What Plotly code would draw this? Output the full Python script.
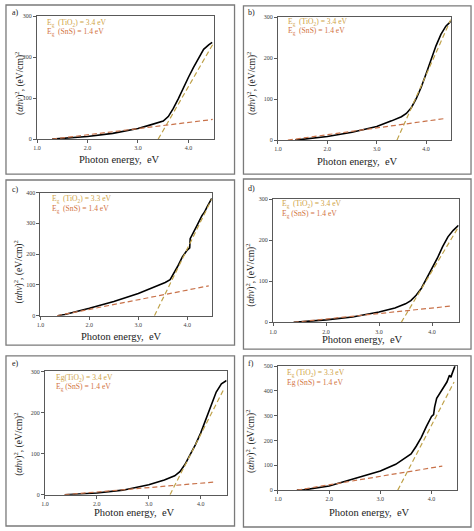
import plotly.graph_objects as go

W, H = 474, 531

# ---------------- data ----------------
a_E = [1.3, 1.5, 2.0, 2.5, 3.0, 3.2, 3.4, 3.5, 3.6, 3.7, 3.8, 3.9, 4.0, 4.1, 4.2, 4.3, 4.4, 4.47]
a_v = [0, 2, 6.5, 14, 26, 33, 40, 44, 55, 75, 99, 127, 151, 175, 199, 219, 230, 236]
a_tio2_E = [3.4, 4.48]
a_tio2_v = [0, 231]
a_sns_E = [1.3, 4.48]
a_sns_v = [0, 48]

b_E = [1.35, 1.5, 2.0, 2.5, 3.0, 3.3, 3.5, 3.6, 3.7, 3.8, 3.9, 4.0, 4.1, 4.2, 4.3, 4.4, 4.47, 4.5]
b_v = [0, 2, 9, 19, 33, 47, 57, 65, 79, 101, 129, 162, 198, 230, 258, 278, 286, 290]
b_tio2_E = [3.41, 4.5]
b_tio2_v = [0, 294]
b_sns_E = [1.2, 4.4]
b_sns_v = [0, 53]

c_E = [1.35, 1.5, 2.0, 2.5, 3.0, 3.2, 3.4, 3.55, 3.65, 3.8, 3.9, 4.0, 4.05, 4.06, 4.1, 4.2, 4.3, 4.35, 4.4, 4.5]
c_v = [0, 4, 24, 46, 72, 84, 98, 108, 117, 159, 191, 213, 220, 250, 261, 293, 325, 336, 352, 381]
c_tio2_E = [3.33, 4.5]
c_tio2_v = [0, 379]
c_sns_E = [1.34, 4.44]
c_sns_v = [0, 97]

d_E = [1.39, 1.5, 2.0, 2.5, 3.0, 3.3, 3.5, 3.6, 3.7, 3.8, 3.9, 4.0, 4.1, 4.2, 4.3, 4.4, 4.5]
d_v = [0, 1, 6, 13, 25, 35, 45, 53, 66, 83, 107, 132, 156, 184, 208, 224, 236]
d_tio2_E = [3.42, 4.48]
d_tio2_v = [0, 228]
d_sns_E = [1.39, 4.39]
d_sns_v = [0, 40]

e_E = [1.38, 1.5, 2.0, 2.5, 3.0, 3.3, 3.5, 3.6, 3.7, 3.8, 3.9, 4.0, 4.1, 4.2, 4.3, 4.4, 4.5]
e_v = [0, 1, 4, 11, 24, 36, 46, 56, 74, 98, 122, 150, 182, 218, 250, 270, 278]
e_tio2_E = [3.41, 4.45]
e_tio2_v = [0, 258]
e_sns_E = [1.38, 4.29]
e_sns_v = [0, 31]

f_E = [1.37, 1.5, 2.0, 2.5, 3.0, 3.3, 3.5, 3.6, 3.7, 3.8, 3.9, 4.0, 4.04, 4.06, 4.1, 4.2, 4.3, 4.35, 4.38, 4.4, 4.45, 4.47, 4.5]
f_v = [0, 1, 17, 47, 77, 104, 130, 146, 177, 213, 257, 297, 305, 335, 370, 403, 436, 463, 455, 469, 496, 520, 520]
f_tio2_E = [3.34, 4.44]
f_tio2_v = [0, 436]
f_sns_E = [1.37, 4.21]
f_sns_v = [0, 97]

y_max = [300, 300, 400, 300, 300, 500]
labels = ["a)", "b)", "c)", "d)", "e)", "f)"]
tio2_text = ["E<sub>g</sub>  (TiO<sub>2</sub>) = 3.4 eV", "E<sub>g</sub>  (TiO<sub>2</sub>) = 3.4 eV",
             "E<sub>g</sub>  (TiO<sub>2</sub>) = 3.3 eV", "E<sub>g</sub>  (TiO<sub>2</sub>) = 3.4 eV",
             "Eg(TiO<sub>2</sub>) = 3.4 eV", "E<sub>g</sub> (TiO<sub>2</sub>) = 3.3 eV"]
sns_text = ["E<sub>g</sub>  (SnS) = 1.4 eV", "E<sub>g</sub>  (SnS) = 1.4 eV",
            "E<sub>g</sub>  (SnS) = 1.4 eV", "E<sub>g</sub> (SnS) = 1.4 eV",
            "E<sub>g</sub> (SnS) = 1.4 eV", "Eg (SnS) = 1.4 eV"]
x_ticks = [1.0, 2.0, 3.0, 4.0]
x_title = "Photon energy,  eV"
y_title = "(<i>αhν</i>)<sup>2</sup>, (eV/cm)<sup>2</sup>"

curves = [(a_E, a_v), (b_E, b_v), (c_E, c_v), (d_E, d_v), (e_E, e_v), (f_E, f_v)]
tio2_lines = [(a_tio2_E, a_tio2_v), (b_tio2_E, b_tio2_v), (c_tio2_E, c_tio2_v),
              (d_tio2_E, d_tio2_v), (e_tio2_E, e_tio2_v), (f_tio2_E, f_tio2_v)]
sns_lines = [(a_sns_E, a_sns_v), (b_sns_E, b_sns_v), (c_sns_E, c_sns_v),
             (d_sns_E, d_sns_v), (e_sns_E, e_sns_v), (f_sns_E, f_sns_v)]

# ---------------- layout geometry (pixels) ----------------
plot_px = [  # x0, x1, ytop, ybottom
    (33.3, 211.5, 13.3, 137.7),
    (276.3, 450.6, 14.3, 138.7),
    (36.7, 209.5, 191.7, 316.3),
    (271.3, 458.4, 198.3, 323.0),
    (41.3, 224.5, 372.7, 497.3),
    (276.3, 457.0, 367.3, 492.7),
]
box_px = [
    (2, 232.5, 2, 173),
    (241.5, 471, 3, 173),
    (2, 232.5, 179, 346),
    (241.5, 471, 178, 350),
    (2, 232.5, 357, 529),
    (241.5, 471, 357, 530),
]
label_px = [(6, 10), (244, 10), (6, 189), (244, 188), (6, 365), (244, 365)]
legend_px = [(41.7, 20.2), (284, 18.8), (46, 198.5), (278.3, 203.8), (50, 378.8), (283.3, 374.5)]
ytitle_px = [(15, 81), (249, 81), (15, 271.7), (249, 275), (15, 446), (249, 443)]
xtitle_px = [(116.7, 158.3), (357, 160), (118, 337), (362, 340.7), (131.7, 515.7), (369, 515)]

TIO2_LINE = "#BFA24A"
SNS_LINE = "#C8724A"
TIO2_TXT = "#CFA346"
SNS_TXT = "#D2743F"
SERIF = "Times New Roman, Liberation Serif, DejaVu Serif, serif"


def px_x(x):
    return x / W


def px_y(y):
    return 1 - y / H


fig = go.Figure()
annotations = []
shapes = []

for i in range(6):
    n = "" if i == 0 else str(i + 1)
    xa, ya = "x" + n, "y" + n
    E, v = curves[i]
    fig.add_trace(go.Scatter(x=E, y=v, mode="lines", xaxis=xa, yaxis=ya,
                             line=dict(color="black", width=1.6), showlegend=False))
    tE, tv = tio2_lines[i]
    fig.add_trace(go.Scatter(x=tE, y=tv, mode="lines", xaxis=xa, yaxis=ya,
                             line=dict(color=TIO2_LINE, width=1.2, dash="5px,3px"), showlegend=False))
    sE, sv = sns_lines[i]
    fig.add_trace(go.Scatter(x=sE, y=sv, mode="lines", xaxis=xa, yaxis=ya,
                             line=dict(color=SNS_LINE, width=1.2, dash="5px,3px"), showlegend=False))

    x0, x1, yt, yb = plot_px[i]
    axis_common = dict(showline=True, linecolor="#595959", linewidth=1, mirror=True,
                       showgrid=False, zeroline=False, ticks="outside", ticklen=3,
                       tickcolor="#595959", tickwidth=1,
                       tickfont=dict(family=SERIF, size=6, color="#404040"))
    fig.layout["xaxis" + n] = dict(domain=[px_x(x0), px_x(x1)], range=[1.0, 4.5],
                                   anchor=ya, tickvals=x_ticks, tickformat=".1f", **axis_common)
    fig.layout["yaxis" + n] = dict(domain=[px_y(yb), px_y(yt)], range=[0, y_max[i]],
                                   anchor=xa, dtick=100, **axis_common)

    bx0, bx1, by0, by1 = box_px[i]
    shapes.append(dict(type="rect", xref="paper", yref="paper",
                       x0=px_x(bx0), x1=px_x(bx1), y0=px_y(by1), y1=px_y(by0),
                       line=dict(color="#7a7a7a", width=1.3)))

    lx, ly = label_px[i]
    annotations.append(dict(text=labels[i], xref="paper", yref="paper", x=px_x(lx), y=px_y(ly),
                            xanchor="left", yanchor="middle", showarrow=False,
                            font=dict(family=SERIF, size=8, color="#222")))
    gx, gy = legend_px[i]
    annotations.append(dict(text=tio2_text[i], xref="paper", yref="paper", x=px_x(gx), y=px_y(gy),
                            xanchor="left", yanchor="middle", showarrow=False,
                            font=dict(family=SERIF, size=7.6, color=TIO2_TXT)))
    annotations.append(dict(text=sns_text[i], xref="paper", yref="paper", x=px_x(gx), y=px_y(gy + 9.5),
                            xanchor="left", yanchor="middle", showarrow=False,
                            font=dict(family=SERIF, size=7.6, color=SNS_TXT)))
    tx, ty = ytitle_px[i]
    annotations.append(dict(text=y_title, xref="paper", yref="paper", x=px_x(tx), y=px_y(ty),
                            xanchor="center", yanchor="middle", showarrow=False, textangle=-90,
                            font=dict(family=SERIF, size=9.5, color="#222")))
    qx, qy = xtitle_px[i]
    annotations.append(dict(text=x_title, xref="paper", yref="paper", x=px_x(qx), y=px_y(qy),
                            xanchor="center", yanchor="middle", showarrow=False,
                            font=dict(family=SERIF, size=10.5, color="#222")))

fig.update_layout(width=W, height=H, margin=dict(l=0, r=0, t=0, b=0),
                  paper_bgcolor="white", plot_bgcolor="white",
                  annotations=annotations, shapes=shapes, showlegend=False)

fig.write_html("out.html")
